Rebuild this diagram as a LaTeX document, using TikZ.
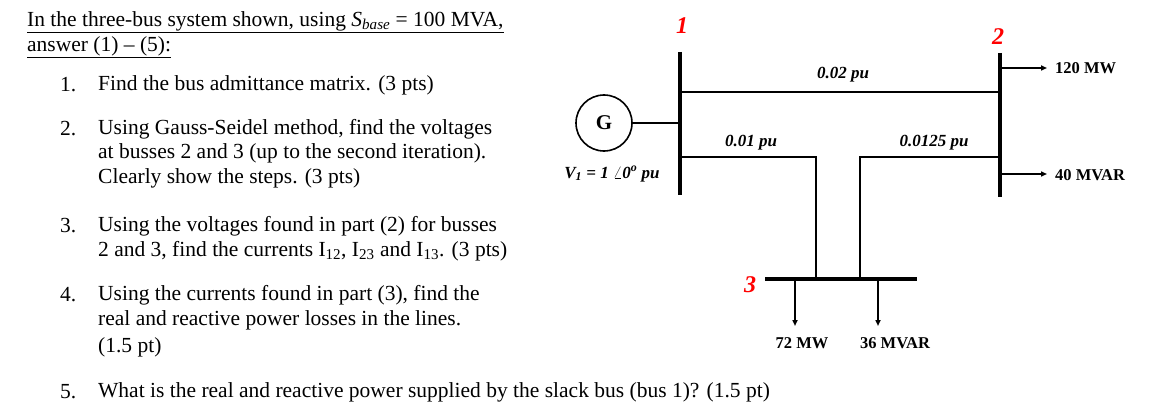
\documentclass[tikz,border=0pt]{standalone}
\usepackage{fontspec}
\setmainfont{Liberation Serif}
\usetikzlibrary{arrows.meta}
\begin{document}
\begin{tikzpicture}[x=1pt,y=-1pt,
  txt/.style={anchor=west,inner sep=0pt,font=\fontsize{21.5}{22}\selectfont},
  bus/.style={line width=4pt},
  ln/.style={line width=1.6pt},
  ld/.style={line width=2pt,-{Triangle[length=6pt,width=5pt]}},
  lab/.style={inner sep=0pt,font=\fontsize{17}{17}\selectfont\bfseries\itshape},
  pw/.style={inner sep=0pt,font=\fontsize{16.5}{17}\selectfont\bfseries},
  num/.style={inner sep=0pt,text=red,font=\fontsize{24}{24}\selectfont\bfseries\itshape}]
\useasboundingbox (0,0) rectangle (1172,417);
% text
\node[txt] (h1) at (27,22) {\underline{In the three-bus system shown, using \textit{S\textsubscript{base}} = 100 MVA,}};
\node[txt] (h2) at (27,47) {\underline{answer (1) -- (5):}};
\node[txt] (n1) at (60,85) {1.};
\node[txt] (t1) at (98,85) {Find the bus admittance matrix. (3 pts)};
\node[txt] (n2) at (60,129) {2.};
\node[txt] (t2a) at (98,129) {Using Gauss-Seidel method, find the voltages};
\node[txt] (t2b) at (98,153) {at busses 2 and 3 (up to the second iteration).};
\node[txt] (t2c) at (98,178) {Clearly show the steps. (3 pts)};
\node[txt] (n3) at (60,226) {3.};
\node[txt] (t3a) at (98,226) {Using the voltages found in part (2) for busses};
\node[txt] (t3b) at (98,251) {2 and 3, find the currents I\textsubscript{12}, I\textsubscript{23} and I\textsubscript{13}. (3 pts)};
\node[txt] (n4) at (60,295) {4.};
\node[txt] (t4a) at (98,295) {Using the currents found in part (3), find the};
\node[txt] (t4b) at (98,320) {real and reactive power losses in the lines.};
\node[txt] (t4c) at (98,347) {(1.5 pt)};
\node[txt] (n5) at (60,392) {5.};
\node[txt] (t5) at (98,392) {What is the real and reactive power supplied by the slack bus (bus 1)? (1.5 pt)};
% buses
\coordinate (b1t) at (680,52); \coordinate (b1b) at (680,195);
\coordinate (b2t) at (1000,53); \coordinate (b2b) at (1000,197);
\coordinate (b3l) at (765,279); \coordinate (b3r) at (917,279);
\draw[bus] (b1t) -- (b1b);
\draw[bus] (b2t) -- (b2b);
\draw[bus] (b3l) -- (b3r);
% generator
\node[draw,circle,line width=1.6pt,minimum size=56pt,inner sep=0pt,font=\fontsize{21}{21}\selectfont\bfseries] (G) at (604,123) {G};
\coordinate (g1) at (680,123);
\draw[ln] (G.east) -- (g1);
\node[inner sep=0pt,font=\fontsize{17}{17}\selectfont\bfseries\itshape] (V1) at (612,174) {V\textsubscript{\textit{1}} = 1 $\angle$0\textsuperscript{o} pu};
% lines
\coordinate (a1) at (680,92); \coordinate (a2) at (1000,92);
\draw[ln] (a1) -- (a2);
\coordinate (c1) at (680,157); \coordinate (c2) at (816,157); \coordinate (c3) at (816,279);
\draw[ln] (c1) -- (c2) -- (c3);
\coordinate (d1) at (1000,157); \coordinate (d2) at (860,157); \coordinate (d3) at (860,279);
\draw[ln] (d1) -- (d2) -- (d3);
\node[lab] (l12) at (843,75) {0.02 pu};
\node[lab] (l13) at (751,143) {0.01 pu};
\node[lab] (l23) at (934,143) {0.0125 pu};
% loads
\coordinate (p2a) at (1000,68); \coordinate (p2b) at (1047,68);
\coordinate (q2a) at (1000,174); \coordinate (q2b) at (1047,174);
\draw[ld] (p2a) -- (p2b);
\draw[ld] (q2a) -- (q2b);
\node[pw,anchor=west] (P2) at (1055,68) {120 MW};
\node[pw,anchor=west] (Q2) at (1055,175) {40 MVAR};
\coordinate (p3a) at (795,279); \coordinate (p3b) at (795,326);
\coordinate (q3a) at (878,279); \coordinate (q3b) at (878,326);
\draw[ld] (p3a) -- (p3b);
\draw[ld] (q3a) -- (q3b);
\node[pw] (P3) at (802,343) {72 MW};
\node[pw] (Q3) at (895,343) {36 MVAR};
% bus numbers
\node[num] (N1) at (682,26) {1};
\node[num] (N2) at (998,37) {2};
\node[num] (N3) at (750,285) {3};
\end{tikzpicture}
\end{document}
